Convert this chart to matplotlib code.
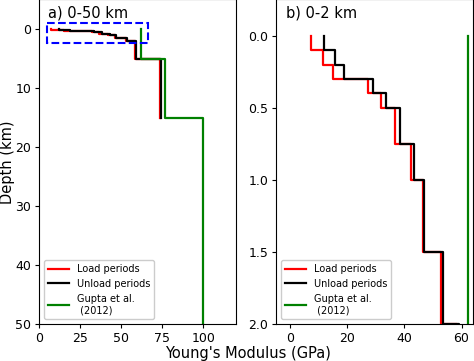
import matplotlib
matplotlib.use("Agg")
import matplotlib.pyplot as plt
import numpy as np
from matplotlib.patches import Rectangle

# layer boundaries (km) for the load / unload profiles
layer_depth = [0, 0.1, 0.2, 0.3, 0.4, 0.5, 0.75, 1.0, 1.5, 2.0, 5.0, 15.0]
load_E = [7.4, 11.6, 15.2, 27.3, 32.0, 36.6, 42.3, 46.4, 52.8, 58.5, 73.8]
unload_E = [12.0, 15.7, 19.0, 29.0, 33.5, 38.6, 43.3, 47.0, 53.6, 59.2, 74.6]

# Gupta et al. (2012) model
gupta_depth = [0, 5, 15, 50]
gupta_E = [62.3, 77.0, 100.0]


def profile(depths, vals):
    ## turn layer values into a stepped (x, depth) line
    d = np.asarray(depths)
    x = np.repeat(vals, 2)
    y = np.column_stack([d[:-1], d[1:]]).ravel()
    return x, y


fig = plt.figure(figsize=(4.74, 3.61), dpi=100)
ax1 = fig.add_axes([39/474, 37/361, 197/474, 325/361])
ax2 = fig.add_axes([276/474, 37/361, 197/474, 325/361])

xl, yl = profile(layer_depth, load_E)
xu, yu = profile(layer_depth, unload_E)
xg, yg = profile(gupta_depth, gupta_E)

for ax in (ax1, ax2):
    ax.plot(xl, yl, color='r', lw=1.6, label='Load periods')
    ax.plot(xu, yu, color='k', lw=1.6, label='Unload periods')
    ax.plot(xg, yg, color='g', lw=1.6, label='Gupta et al.\n (2012)')
    ax.tick_params(labelsize=9, length=3, pad=2.5)
    ax.legend(loc='lower left', fontsize=7, handlelength=2.2,
              borderpad=0.4, labelspacing=0.5, framealpha=1)

ax1.set_xlim(0, 120)
ax1.set_ylim(50, -5.1)
ax1.set_xticks([0, 25, 50, 75, 100])
ax1.set_yticks([0, 10, 20, 30, 40, 50])
ax1.add_patch(Rectangle((4.7, -1.0), 61.5, 3.3, fill=False,
                        edgecolor='b', ls='--', lw=1.5, zorder=5))
ax1.text(0.045, 0.98, 'a) 0-50 km', transform=ax1.transAxes,
         fontsize=10.5, va='top')

ax2.set_xlim(-4.8, 64)
ax2.set_ylim(2.0, -0.255)
ax2.set_xticks([0, 20, 40, 60])
ax2.set_yticks([0.0, 0.5, 1.0, 1.5, 2.0])
ax2.text(0.05, 0.98, 'b) 0-2 km', transform=ax2.transAxes,
         fontsize=10.5, va='top')

fig.text(8/474, 0.551, 'Depth (km)', rotation=90, ha='center', va='center',
         fontsize=10.5)
fig.text(0.524, 0.021, "Young's Modulus (GPa)", ha='center', va='center',
         fontsize=10.5)

fig.savefig('out.png', dpi=100)
